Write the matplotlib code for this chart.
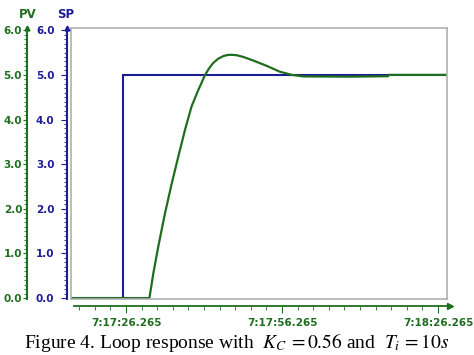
import matplotlib.pyplot as plt
import matplotlib.ticker as mtick

# seconds relative to 7:17:26.265
sp_time = [-10.6, -0.6, -0.6, 61.7]
sp_value = [0.0, 0.0, 5.0, 5.0]

pv_time = [-10.6, 4.5, 5.25, 6.2, 7.5, 8.8, 10.06, 11.35, 12.6, 13.3, 13.9, 14.6, 15.2,
           16.0, 16.8, 17.7, 18.7, 19.5, 20.3, 21.3, 22.6, 24.5, 27.1, 29.6, 31.9,
           34.1, 43.1, 50.4, 50.6, 61.7]
pv_value = [0.0, 0.0, 0.55, 1.15, 1.9, 2.57, 3.17, 3.77, 4.29, 4.49, 4.66, 4.84, 5.0,
            5.15, 5.27, 5.36, 5.42, 5.445, 5.45, 5.44, 5.40, 5.32, 5.20, 5.07, 5.0,
            4.965, 4.96, 4.97, 5.0, 5.0]

tick_times = [0, 30, 60]
tick_labels = ['7:17:26.265', '7:17:56.265', '7:18:26.265']

W, H = 474, 355
GREEN = '#1f6e1f'
BLUE = '#1c1c96'
PX_PER_S = 5.2
X0 = 126  # pixel of t=0


def t_at(px):
    return (px - X0) / PX_PER_S


def box(x0, y0, x1, y1):
    # pixel box (top-left origin) -> figure fraction
    return [x0 / W, 1 - y1 / H, (x1 - x0) / W, (y1 - y0) / H]


plt.rcParams['font.family'] = 'DejaVu Sans'
plt.rcParams['mathtext.fontset'] = 'stix'

fig = plt.figure(figsize=(W / 100, H / 100), dpi=100)

ylim = (-0.02, 6.05)

# main plot area
ax = fig.add_axes(box(71, 28, 447, 299))
ax.plot(sp_time, sp_value, color=BLUE, lw=1.5, solid_joinstyle='miter')
ax.plot(pv_time, pv_value, color=GREEN, lw=1.6)
ax.set_xlim(t_at(71), t_at(447))
ax.set_ylim(*ylim)
ax.set_xticks([])
ax.set_yticks([])
for s in ax.spines.values():
    s.set_color('#b0b0b0')
    s.set_linewidth(1.2)

# time axis below the plot
axx = fig.add_axes(box(74, 300, 450, 306))
axx.set_xlim(t_at(74), t_at(450))
axx.patch.set_visible(False)
for k in ['top', 'left', 'right']:
    axx.spines[k].set_visible(False)
axx.spines['bottom'].set_color(GREEN)
axx.spines['bottom'].set_linewidth(1.3)
axx.set_yticks([])
axx.set_xticks(tick_times)
axx.set_xticklabels(tick_labels, color=GREEN, fontsize=7.5, fontweight='bold')
axx.xaxis.set_minor_locator(mtick.MultipleLocator(3))
axx.tick_params(axis='x', which='major', length=5, color=GREEN, pad=4)
axx.tick_params(axis='x', which='minor', length=3, color=GREEN)
axx.plot([1], [0], marker='>', ms=4, color=GREEN, transform=axx.transAxes, clip_on=False)


def side_axis(px, color, pad, length):
    a = fig.add_axes(box(px, 28, px + 1, 299))
    a.set_ylim(*ylim)
    a.patch.set_visible(False)
    for k in ['top', 'bottom', 'right']:
        a.spines[k].set_visible(False)
    a.spines['left'].set_color(color)
    a.spines['left'].set_linewidth(1.5)
    a.set_xticks([])
    a.set_yticks(range(7))
    a.set_yticklabels([f'{v:.1f}' for v in range(7)], color=color,
                      fontsize=7.5, fontweight='bold')
    a.yaxis.set_minor_locator(mtick.MultipleLocator(0.1))
    a.tick_params(axis='y', which='major', length=length, color=color, pad=pad)
    a.tick_params(axis='y', which='minor', length=2, color=color)
    a.plot([0], [1], marker='^', ms=3.5, color=color, transform=a.transAxes, clip_on=False)
    return a


side_axis(27, GREEN, 0.5, 3)
side_axis(67, BLUE, 5, 4)

fig.text(28 / W, 1 - 15 / H, 'PV', color=GREEN, fontsize=8.5, fontweight='bold',
         ha='center', va='center')
fig.text(66 / W, 1 - 15 / H, 'SP', color=BLUE, fontsize=8.5, fontweight='bold',
         ha='center', va='center')

fig.text(237 / W, 1 - 343 / H,
         r'Figure 4. Loop response with  $K_C\,=0.56$ and  $T_i\,=10s$',
         family='Liberation Serif', fontsize=14, ha='center', va='center')

plt.savefig('out.png', dpi=100, facecolor='white')
